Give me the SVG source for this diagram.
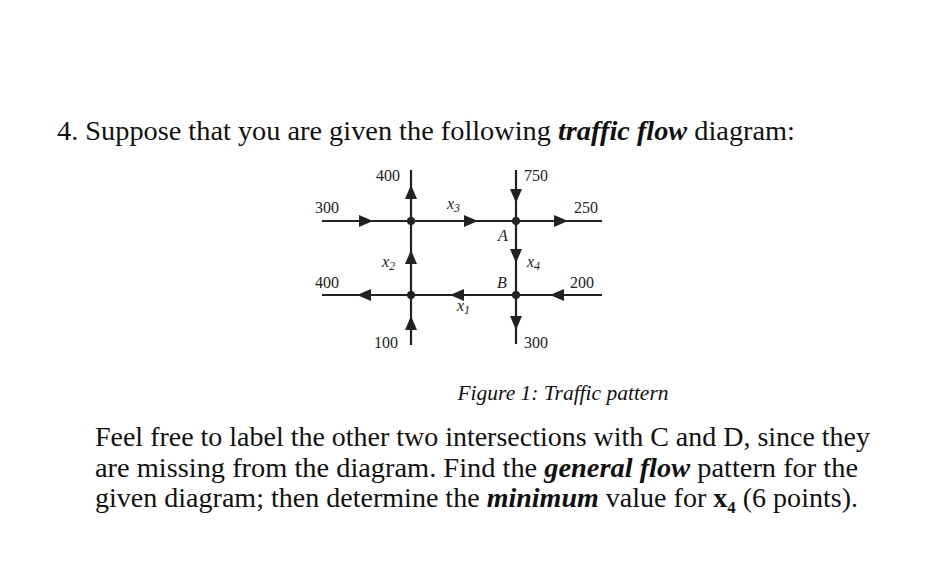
<svg xmlns="http://www.w3.org/2000/svg" width="933" height="577" viewBox="0 0 933 577">
<style>
.t{font-family:"Liberation Serif",serif;fill:#111}
.l{font-family:"Liberation Serif",serif;font-size:16px;fill:#222}
.i{font-style:italic}
.ln{stroke:#222;stroke-width:2.2;fill:none}
</style>
<rect width="933" height="577" fill="#fff"/>
<text class="t" x="57" y="140" font-size="28" textLength="738" lengthAdjust="spacingAndGlyphs">4. Suppose that you are given the following <tspan font-weight="bold" font-style="italic">traffic flow</tspan> diagram:</text>
<g id="connectors">
<line class="ln" x1="322" y1="221" x2="602" y2="221"/>
<line class="ln" x1="322" y1="295" x2="602" y2="295"/>
<line class="ln" x1="411" y1="170" x2="411" y2="345"/>
<line class="ln" x1="516" y1="170" x2="516" y2="344"/>
<g fill="#222">
<path d="M359,215 L373,221 L359,227z"/>
<path d="M464,215 L478,221 L464,227z"/>
<path d="M554,215 L568,221 L554,227z"/>
<path d="M371,289 L357,295 L371,301z"/>
<path d="M464,289 L450,295 L464,301z"/>
<path d="M564,289 L550,295 L564,301z"/>
<path d="M405,199 L411,185 L417,199z"/>
<path d="M405,264 L411,250 L417,264z"/>
<path d="M405,330 L411,316 L417,330z"/>
<path d="M510,189 L516,203 L522,189z"/>
<path d="M510,249 L516,263 L522,249z"/>
<path d="M510,316 L516,330 L522,316z"/>
<circle cx="411" cy="221" r="4"/><circle cx="516" cy="221" r="4"/>
<circle cx="411" cy="295" r="4"/><circle cx="516" cy="295" r="4"/>
</g>
</g>
<g id="labels">
<text class="l" x="376" y="181">400</text>
<text class="l" x="524" y="181">750</text>
<text class="l" x="315" y="213">300</text>
<text class="l" x="574" y="213">250</text>
<text class="l i" x="447" y="209">x<tspan font-size="12" dy="3">3</tspan></text>
<text class="l i" x="498" y="241">A</text>
<text class="l i" x="382" y="267">x<tspan font-size="12" dy="3">2</tspan></text>
<text class="l i" x="527" y="267">x<tspan font-size="12" dy="3">4</tspan></text>
<text class="l i" x="497" y="288">B</text>
<text class="l" x="315" y="288">400</text>
<text class="l" x="570" y="288">200</text>
<text class="l i" x="457" y="311">x<tspan font-size="12" dy="3">1</tspan></text>
<text class="l" x="374" y="348">100</text>
<text class="l" x="524" y="348">300</text>
</g>
<text class="t" x="563" y="400" font-size="20" font-style="italic" text-anchor="middle" textLength="211" lengthAdjust="spacingAndGlyphs">Figure 1: Traffic pattern</text>
<text class="t" x="95" y="446" font-size="28" textLength="775" lengthAdjust="spacingAndGlyphs">Feel free to label the other two intersections with C and D, since they</text>
<text class="t" x="95" y="477" font-size="28" textLength="763" lengthAdjust="spacingAndGlyphs">are missing from the diagram.  Find the <tspan font-weight="bold" font-style="italic">general flow</tspan> pattern for the</text>
<text class="t" x="95" y="507" font-size="28" textLength="763" lengthAdjust="spacingAndGlyphs">given diagram; then determine the <tspan font-weight="bold" font-style="italic">minimum</tspan> value for <tspan font-weight="bold">x₄</tspan> (6 points).</text>
</svg>
